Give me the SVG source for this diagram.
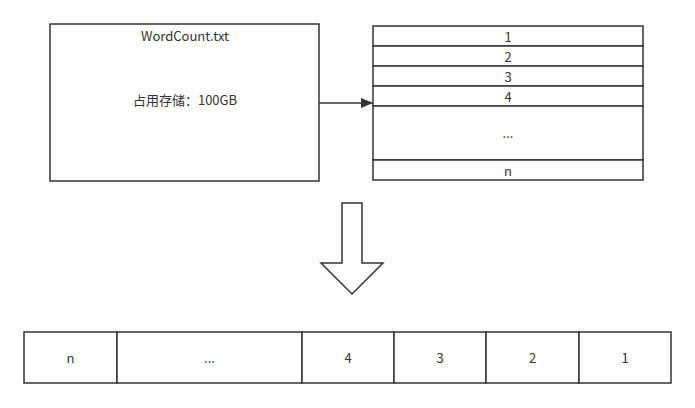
<svg xmlns="http://www.w3.org/2000/svg" width="695" height="408" viewBox="0 0 695 408">
<style>
.b{fill:#fff;stroke:#333;stroke-width:1.5}
.t{font-family:"Noto Sans CJK SC","Noto Sans",sans-serif;font-size:13px;fill:#333;text-anchor:middle;dominant-baseline:central}
</style>
<defs>
<marker id="ah" markerWidth="12" markerHeight="12" refX="12" refY="5.5" orient="auto" markerUnits="userSpaceOnUse">
<path d="M0,0.5 L12,5.5 L0,10.5 Z" fill="#333"/>
</marker>
</defs>
<rect width="695" height="408" fill="#fff"/>
<g id="file">
<rect class="b" x="50" y="24" width="269" height="157"/>
<text class="t" x="185" y="35">WordCount.txt</text>
<text class="t" x="185" y="99">占用存储：100GB</text>
</g>
<g id="blocks">
<rect class="b" x="373" y="26" width="270" height="20"/>
<text class="t" x="508" y="36">1</text>
<rect class="b" x="373" y="46" width="270" height="20"/>
<text class="t" x="508" y="56">2</text>
<rect class="b" x="373" y="66" width="270" height="20"/>
<text class="t" x="508" y="76">3</text>
<rect class="b" x="373" y="86" width="270" height="20"/>
<text class="t" x="508" y="96">4</text>
<rect class="b" x="373" y="106" width="270" height="54"/>
<text class="t" x="508" y="132">...</text>
<rect class="b" x="373" y="160" width="270" height="20"/>
<text class="t" x="508" y="170">n</text>
</g>
<g id="bigarrow">
<path class="b" d="M342,203 L362,203 L362,263 L383,263 L352,294 L321,263 L342,263 Z"/>
</g>
<g id="row">
<rect class="b" x="24" y="332" width="93" height="51"/>
<text class="t" x="70.5" y="357.5">n</text>
<rect class="b" x="117" y="332" width="185" height="51"/>
<text class="t" x="209.5" y="357.5">...</text>
<rect class="b" x="302" y="332" width="92" height="51"/>
<text class="t" x="348" y="357.5">4</text>
<rect class="b" x="394" y="332" width="92" height="51"/>
<text class="t" x="440" y="357.5">3</text>
<rect class="b" x="486" y="332" width="93" height="51"/>
<text class="t" x="532.5" y="357.5">2</text>
<rect class="b" x="579" y="332" width="92" height="51"/>
<text class="t" x="625" y="357.5">1</text>
</g>
<g id="connectors">
<line x1="319" y1="103" x2="373" y2="103" stroke="#333" stroke-width="1.5" marker-end="url(#ah)"/>
</g>
</svg>
